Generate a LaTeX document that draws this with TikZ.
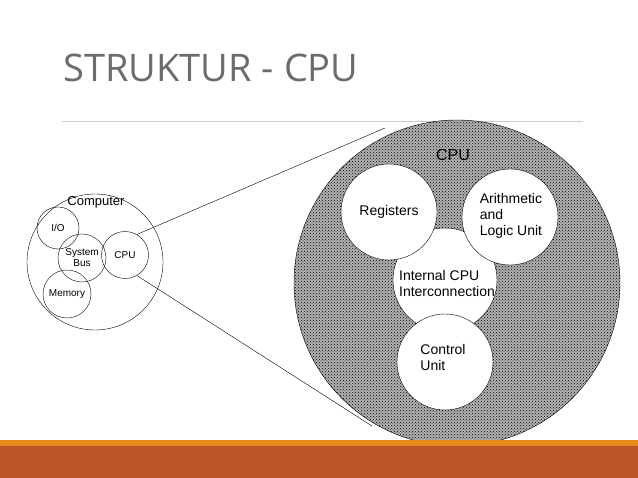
\documentclass[tikz,border=0pt]{standalone}
\usepackage{fontspec}
\setmainfont{Liberation Sans}
\newfontfamily\titlefont{Open Sans}
\usetikzlibrary{patterns}
\definecolor{rust}{HTML}{BF562A}
\definecolor{amber}{HTML}{E8891E}
\tikzset{
  part/.style={circle, draw, fill=white, align=center, inner sep=0pt},
  small/.style={part, font=\fontsize{10}{11}\selectfont},
  big/.style={part, font=\fontsize{14}{16}\selectfont, text width=80pt, align=left}
}
\begin{document}
\begin{tikzpicture}[x=1pt, y=-1pt]
	\useasboundingbox (0,0) rectangle (638,478);

	\node[anchor=west, text=gray!85!black, font=\titlefont\fontsize{38}{40}\selectfont] (title) at (60,68) {STRUKTUR - CPU};
	\draw[gray!40] (62,121) -- (583,121);

	% computer
	\node[circle, draw, minimum size=136pt] (comp) at (95,262) {};
	\node[font=\fontsize{13}{15}\selectfont] (complbl) at (96,202) {Computer};
	\node[small, fill=none, minimum size=42pt] (io) at (58,228) {I/O};
	\node[small, fill=none, minimum size=48pt] (bus) at (82,258) {System\\Bus};
	\node[small, fill=none, minimum size=47pt] (cpu) at (125,255) {CPU};
	\node[small, fill=none, minimum size=48pt] (mem) at (67,294) {Memory};

	% cpu detail
	\node[circle, draw, minimum size=326pt, fill=gray!60, postaction={pattern=crosshatch dots}] (cpubig) at (457,283) {};
	\coordinate (tp) at (385,128);
	\coordinate (bt) at (372,426);
	\draw (cpu.60) -- (tp);
	\draw (cpu.-60) -- (bt);
	\node[font=\fontsize{16}{18}\selectfont] (cpulbl) at (453,155) {CPU};
	\node[part, minimum size=104pt] (icpu) at (445,280) {};
	\node[font=\fontsize{14}{16}\selectfont, align=left] at (447,283) {Internal CPU\\Interconnection};
	\node[part, minimum size=96pt] (reg) at (389,212) {};
	\node[font=\fontsize{14}{16}\selectfont] at (389,212) {Registers};
	\node[part, minimum size=96pt] (alu) at (510,217) {};
	\node[font=\fontsize{14}{16}\selectfont, align=left] at (511,216) {Arithmetic\\and\\Logic Unit};
	\node[part, minimum size=96pt] (cu) at (445,362) {};
	\node[font=\fontsize{14}{16}\selectfont, align=left] at (443,357) {Control\\Unit};

	% bottom bars
	\fill[amber] (0,440) rectangle (638,447);
	\fill[rust] (0,446) rectangle (638,478);
\end{tikzpicture}
\end{document}
